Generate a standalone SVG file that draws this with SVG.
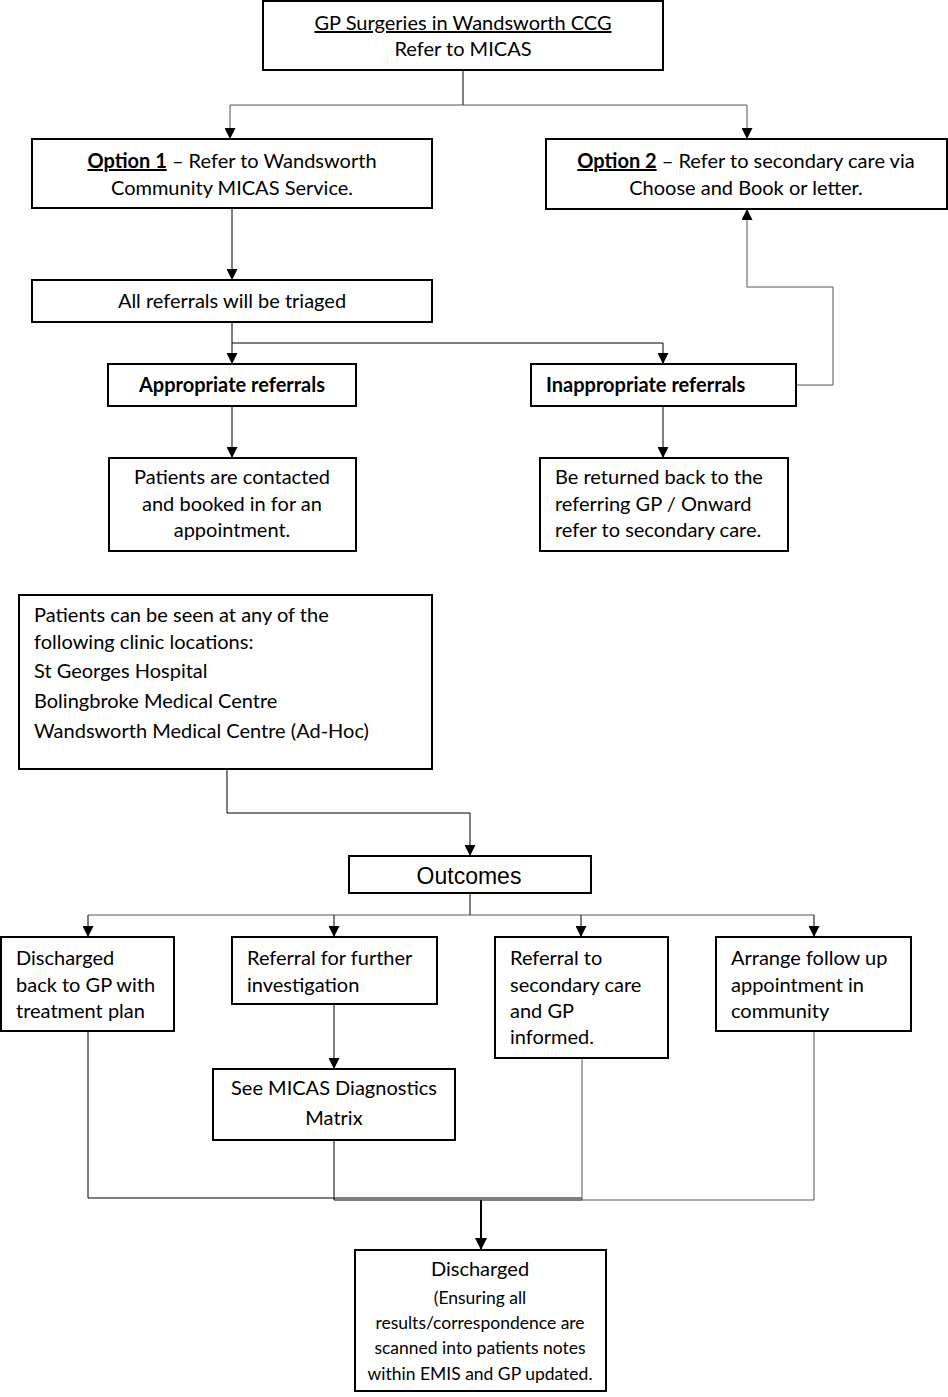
<svg xmlns="http://www.w3.org/2000/svg" width="948" height="1397" viewBox="0 0 948 1397">
<style>
.b{fill:#fff;stroke:#000;stroke-width:2}
.t{font-family:Lato,"Noto Sans",sans-serif;font-size:20px;fill:#000}
.c{text-anchor:middle}
.bd{font-weight:bold}
.s{font-size:17.5px}
.o{font-family:"Liberation Sans",Arial,sans-serif;font-size:23px}
.ln{fill:none;stroke:#000;stroke-width:1}
.g{stroke:#555}
</style>
<defs>
<marker id="a" viewBox="0 0 10 10" refX="10" refY="5" markerWidth="12" markerHeight="11" markerUnits="userSpaceOnUse" orient="auto">
<path d="M0,0 L10,5 L0,10 Z" fill="#000"/>
</marker>
<marker id="a2" viewBox="0 0 10 10" refX="10" refY="5" markerWidth="13" markerHeight="12" markerUnits="userSpaceOnUse" orient="auto">
<path d="M0,0 L10,5 L0,10 Z" fill="#000"/>
</marker>
</defs>
<g id="connectors">
<path class="ln" d="M463,70 V105"/>
<path class="ln g" d="M463,105 H230 V139" marker-end="url(#a)"/>
<path class="ln g" d="M463,105 H747 V139" marker-end="url(#a)"/>
<path class="ln" d="M232,208 V280" marker-end="url(#a)"/>
<path class="ln" d="M232,322 V364" marker-end="url(#a)"/>
<path class="ln" d="M232,343 H663 V364" marker-end="url(#a)"/>
<path class="ln g" d="M796,385 H833 V287 H747 V209" marker-end="url(#a)"/>
<path class="ln" d="M232,406 V458" marker-end="url(#a)"/>
<path class="ln" d="M663,406 V458" marker-end="url(#a)"/>
<path class="ln" d="M227,769 V813 H470 V856" marker-end="url(#a)"/>
<path class="ln" d="M470,893 V915"/>
<path class="ln g" d="M88,915 H814"/>
<path class="ln" d="M88,915 V937" marker-end="url(#a)"/>
<path class="ln" d="M334,915 V937" marker-end="url(#a)"/>
<path class="ln" d="M581,915 V937" marker-end="url(#a)"/>
<path class="ln" d="M814,915 V937" marker-end="url(#a)"/>
<path class="ln" d="M334,1004 V1069" marker-end="url(#a)"/>
<path class="ln" d="M88,1031 V1198 H582"/>
<path class="ln g" d="M582,1058 V1200"/>
<path class="ln" d="M334,1140 V1200 H582"/>
<path class="ln g" d="M814,1031 V1200 H582"/>
<path class="ln" style="stroke-width:2" d="M481,1200 V1250" marker-end="url(#a2)"/>
</g>
<g id="n-top">
<rect class="b" x="263" y="1" width="400" height="69"/>
<text class="t c" x="463" y="30" text-decoration="underline">GP Surgeries in Wandsworth CCG</text>
<text class="t c" x="463" y="56">Refer to MICAS</text>
</g>
<g id="n-opt1">
<rect class="b" x="32" y="139" width="400" height="69"/>
<text class="t c" x="232" y="168"><tspan class="bd" text-decoration="underline">Option 1</tspan> – Refer to Wandsworth</text>
<text class="t c" x="232" y="195">Community MICAS Service.</text>
</g>
<g id="n-opt2">
<rect class="b" x="546" y="139" width="401" height="70"/>
<text class="t c" x="746" y="168"><tspan class="bd" text-decoration="underline">Option 2</tspan> – Refer to secondary care via</text>
<text class="t c" x="746" y="195">Choose and Book or letter.</text>
</g>
<g id="n-triage">
<rect class="b" x="32" y="280" width="400" height="42"/>
<text class="t c" x="232" y="308">All referrals will be triaged</text>
</g>
<g id="n-appr">
<rect class="b" x="108" y="364" width="248" height="42"/>
<text class="t c bd" x="232" y="392">Appropriate referrals</text>
</g>
<g id="n-inappr">
<rect class="b" x="531" y="364" width="265" height="42"/>
<text class="t bd" x="546" y="392">Inappropriate referrals</text>
</g>
<g id="n-contacted">
<rect class="b" x="109" y="458" width="247" height="93"/>
<text class="t c" x="232" y="484">Patients are contacted</text>
<text class="t c" x="232" y="511">and booked in for an</text>
<text class="t c" x="232" y="537">appointment.</text>
</g>
<g id="n-returned">
<rect class="b" x="540" y="458" width="248" height="93"/>
<text class="t" x="555" y="484">Be returned back to the</text>
<text class="t" x="555" y="511">referring GP / Onward</text>
<text class="t" x="555" y="537">refer to secondary care.</text>
</g>
<g id="n-clinics">
<rect class="b" x="19" y="595" width="413" height="174"/>
<text class="t" x="34" y="622">Patients can be seen at any of the</text>
<text class="t" x="34" y="649">following clinic locations:</text>
<text class="t" x="34" y="678">St Georges Hospital</text>
<text class="t" x="34" y="708">Bolingbroke Medical Centre</text>
<text class="t" x="34" y="738">Wandsworth Medical Centre (Ad-Hoc)</text>
</g>
<g id="n-outcomes">
<rect class="b" x="349" y="856" width="242" height="37"/>
<text class="o c" x="469" y="884">Outcomes</text>
</g>
<g id="n-disgp">
<rect class="b" x="1" y="937" width="173" height="94"/>
<text class="t" x="16" y="965">Discharged</text>
<text class="t" x="16" y="992">back to GP with</text>
<text class="t" x="16" y="1018">treatment plan</text>
</g>
<g id="n-further">
<rect class="b" x="232" y="937" width="205" height="67"/>
<text class="t" x="247" y="965">Referral for further</text>
<text class="t" x="247" y="992">investigation</text>
</g>
<g id="n-secondary">
<rect class="b" x="495" y="937" width="173" height="121"/>
<text class="t" x="510" y="965">Referral to</text>
<text class="t" x="510" y="992">secondary care</text>
<text class="t" x="510" y="1018">and GP</text>
<text class="t" x="510" y="1044">informed.</text>
</g>
<g id="n-followup">
<rect class="b" x="716" y="937" width="195" height="94"/>
<text class="t" x="731" y="965">Arrange follow up</text>
<text class="t" x="731" y="992">appointment in</text>
<text class="t" x="731" y="1018">community</text>
</g>
<g id="n-matrix">
<rect class="b" x="213" y="1069" width="242" height="71"/>
<text class="t c" x="334" y="1095">See MICAS Diagnostics</text>
<text class="t c" x="334" y="1125">Matrix</text>
</g>
<g id="n-discharged">
<rect class="b" x="355" y="1250" width="251" height="141"/>
<text class="t c" x="480" y="1276">Discharged</text>
<text class="t c s" x="480" y="1304">(Ensuring all</text>
<text class="t c s" x="480" y="1329">results/correspondence are</text>
<text class="t c s" x="480" y="1354">scanned into patients notes</text>
<text class="t c s" x="480" y="1380">within EMIS and GP updated.</text>
</g>
</svg>
